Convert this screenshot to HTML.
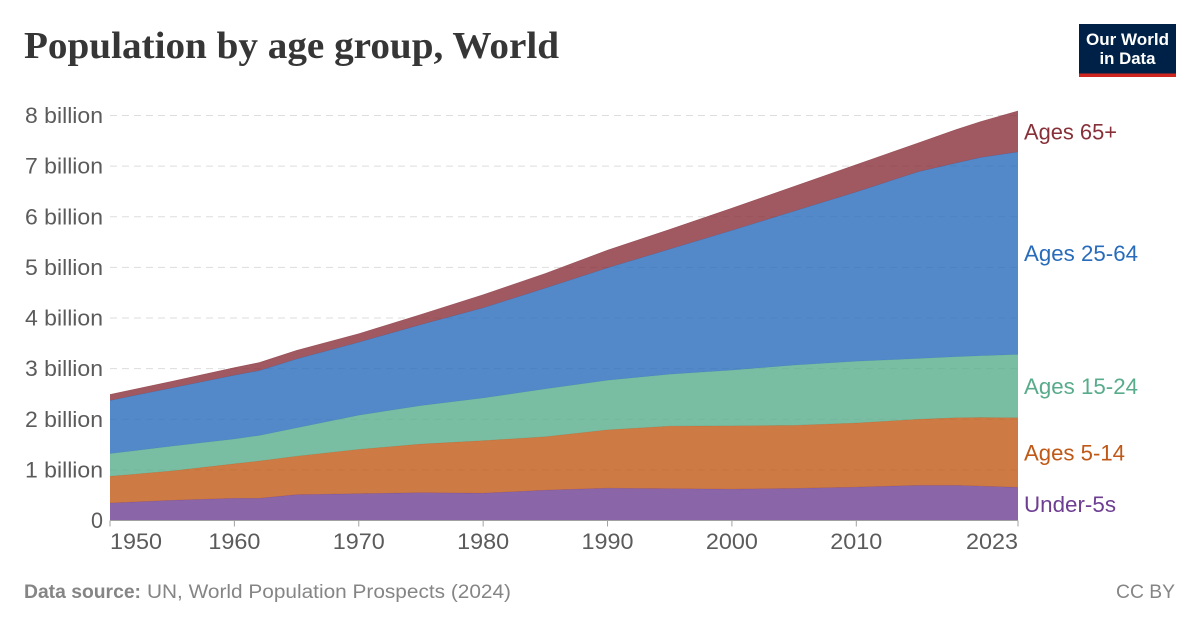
<!DOCTYPE html>
<html lang="en">
<head>
<meta charset="utf-8">
<title>Population by age group, World</title>
<style>
html,body{margin:0;padding:0;background:#fff;width:1200px;height:627px;overflow:hidden}
svg{display:block}
text{font-family:"Liberation Sans",sans-serif}
</style>
</head>
<body>
<svg id="chart" xmlns="http://www.w3.org/2000/svg" width="1200" height="627" viewBox="0 0 1200 627">
  <rect width="1200" height="627" fill="#fff"/>
  <text x="24" y="58" font-family="Liberation Serif" style="font-family:'Liberation Serif',serif" font-weight="700" font-size="38" fill="#363636" textLength="535" lengthAdjust="spacingAndGlyphs">Population by age group, World</text>
  <g>
    <rect x="1079" y="24" width="97" height="53" fill="#002147"/>
    <rect x="1079" y="73.5" width="97" height="3.5" fill="#ce261e"/>
    <text x="1127.5" y="45" text-anchor="middle" font-size="17" font-weight="700" fill="#fff" textLength="83" lengthAdjust="spacingAndGlyphs">Our World</text>
    <text x="1127.5" y="64" text-anchor="middle" font-size="17" font-weight="700" fill="#fff" textLength="56" lengthAdjust="spacingAndGlyphs">in Data</text>
  </g>
  <g id="grid"></g>
  <g id="areas"></g>
  <g id="yaxis"></g>
  <g id="xaxis"></g>
  <g id="legend"></g>
  <text x="24" y="598" font-size="19" font-weight="700" fill="#858585" textLength="117" lengthAdjust="spacingAndGlyphs">Data source:</text>
  <text x="147" y="598" font-size="19" fill="#858585" textLength="364" lengthAdjust="spacingAndGlyphs">UN, World Population Prospects (2024)</text>
  <text x="1175" y="598" text-anchor="end" font-size="19" fill="#858585" textLength="59" lengthAdjust="spacingAndGlyphs">CC BY</text>
</svg>
<script>
const years = [1950,1955,1960,1962,1965,1970,1975,1980,1985,1990,1995,2000,2005,2010,2015,2018,2020,2023];
const under5 = [0.345,0.40,0.44,0.44,0.51,0.53,0.55,0.54,0.60,0.64,0.63,0.62,0.635,0.66,0.695,0.695,0.68,0.655];
const ages5to14 = [0.528,0.58,0.68,0.735,0.76,0.875,0.96,1.037,1.055,1.15,1.235,1.25,1.245,1.266,1.305,1.335,1.355,1.375];
const ages15to24 = [0.447,0.49,0.49,0.505,0.56,0.675,0.76,0.843,0.945,0.98,1.025,1.10,1.19,1.219,1.20,1.205,1.22,1.25];
const ages25to64 = [1.05,1.15,1.26,1.28,1.36,1.44,1.60,1.78,1.99,2.22,2.47,2.76,3.04,3.345,3.69,3.825,3.915,4.00];
const ages65plus = [0.12,0.13,0.15,0.16,0.17,0.17,0.20,0.26,0.29,0.35,0.39,0.44,0.49,0.54,0.57,0.66,0.71,0.81];

const seriesNames = ["Under-5s","Ages 5-14","Ages 15-24","Ages 25-64","Ages 65+"];
const seriesKeys = ["under-5s","ages-5-14","ages-15-24","ages-25-64","ages-65-plus"];
const seriesValues = [under5,ages5to14,ages15to24,ages25to64,ages65plus];
const seriesColors = ["#6d3e91","#c05917","#58ac8c","#286bbb","#883039"];
const yTickValues = [0,1,2,3,4,5,6,7,8];
const yTickLabels = ["0","1 billion","2 billion","3 billion","4 billion","5 billion","6 billion","7 billion","8 billion"];
const xTickValues = [1950,1960,1970,1980,1990,2000,2010,2023];

const NS = "http://www.w3.org/2000/svg";
const plotLeft = 110, plotRight = 1018, plotBottom = 520.5, plotTop = 115.5;
function xScale(year){
  return plotLeft + (year - 1950) / (2023 - 1950) * (plotRight - plotLeft);
}
function yScale(value){
  return plotBottom - value / 8 * (plotBottom - plotTop);
}
function make(tag, attrs, parent, content){
  const el = document.createElementNS(NS, tag);
  for (const k in attrs) el.setAttribute(k, attrs[k]);
  if (content !== undefined) el.textContent = content;
  parent.appendChild(el);
  return el;
}

const areasG = document.getElementById("areas");
const gridG = document.getElementById("grid");
const yAxisG = document.getElementById("yaxis");
const xAxisG = document.getElementById("xaxis");
const legendG = document.getElementById("legend");

let baseline = years.map(() => 0);
const lastTops = [];
seriesValues.forEach((vals, s) => {
  const top = vals.map((v, i) => baseline[i] + v);
  const upper = years.map((yr, i) => xScale(yr).toFixed(2) + "," + yScale(top[i]).toFixed(2));
  const lower = years.map((yr, i) => xScale(yr).toFixed(2) + "," + yScale(baseline[i]).toFixed(2)).reverse();
  const area = make("polygon", {points: upper.concat(lower).join(" "), fill: seriesColors[s], "fill-opacity": 0.8}, areasG);
  
  
  const line = make("polyline", {points: upper.join(" "), fill: "none", stroke: seriesColors[s], "stroke-width": 0.5, "stroke-opacity": 0.7}, areasG);
  
  
  lastTops.push([baseline[baseline.length - 1], top[top.length - 1]]);
  baseline = top;
});

const yLabelWidths = [12,78,78,78,78,78,78,78,78];
yTickValues.forEach((v, i) => {
  const y = yScale(v);
  if (v > 0) {
    const grid = make("line", {x1: plotLeft, x2: plotRight, y1: y, y2: y, stroke: "#dddddd", "stroke-width": 1, "stroke-dasharray": "7,5"}, gridG);
    
    
  }
  const label = make("text", {x: 103, y: y + 7.5, "text-anchor": "end", "font-size": 22, fill: "#5b5b5b", textLength: yLabelWidths[i], lengthAdjust: "spacingAndGlyphs"}, yAxisG, yTickLabels[i]);
  
  
});

const axisLine = make("line", {x1: plotLeft, x2: plotRight, y1: plotBottom, y2: plotBottom, stroke: "#a1a1a1", "stroke-width": 1}, xAxisG);


xTickValues.forEach((yr, i) => {
  const x = xScale(yr);
  const tick = make("line", {x1: x, x2: x, y1: plotBottom, y2: plotBottom + 6, stroke: "#a1a1a1", "stroke-width": 1}, xAxisG);
  
  
  const anchor = i === 0 ? "start" : (i === xTickValues.length - 1 ? "end" : "middle");
  const label = make("text", {x: x, y: 549, "text-anchor": anchor, "font-size": 22, fill: "#5b5b5b", textLength: 52, lengthAdjust: "spacingAndGlyphs"}, xAxisG, String(yr));
  
  
});

const legendWidths = [92,101,114,114,93];
seriesNames.forEach((name, s) => {
  const mid = (lastTops[s][0] + lastTops[s][1]) / 2;
  const label = make("text", {x: 1024, y: yScale(mid) + 8, "font-size": 22, fill: seriesColors[s], textLength: legendWidths[s], lengthAdjust: "spacingAndGlyphs"}, legendG, name);
  
  
});
</script>
</body>
</html>
